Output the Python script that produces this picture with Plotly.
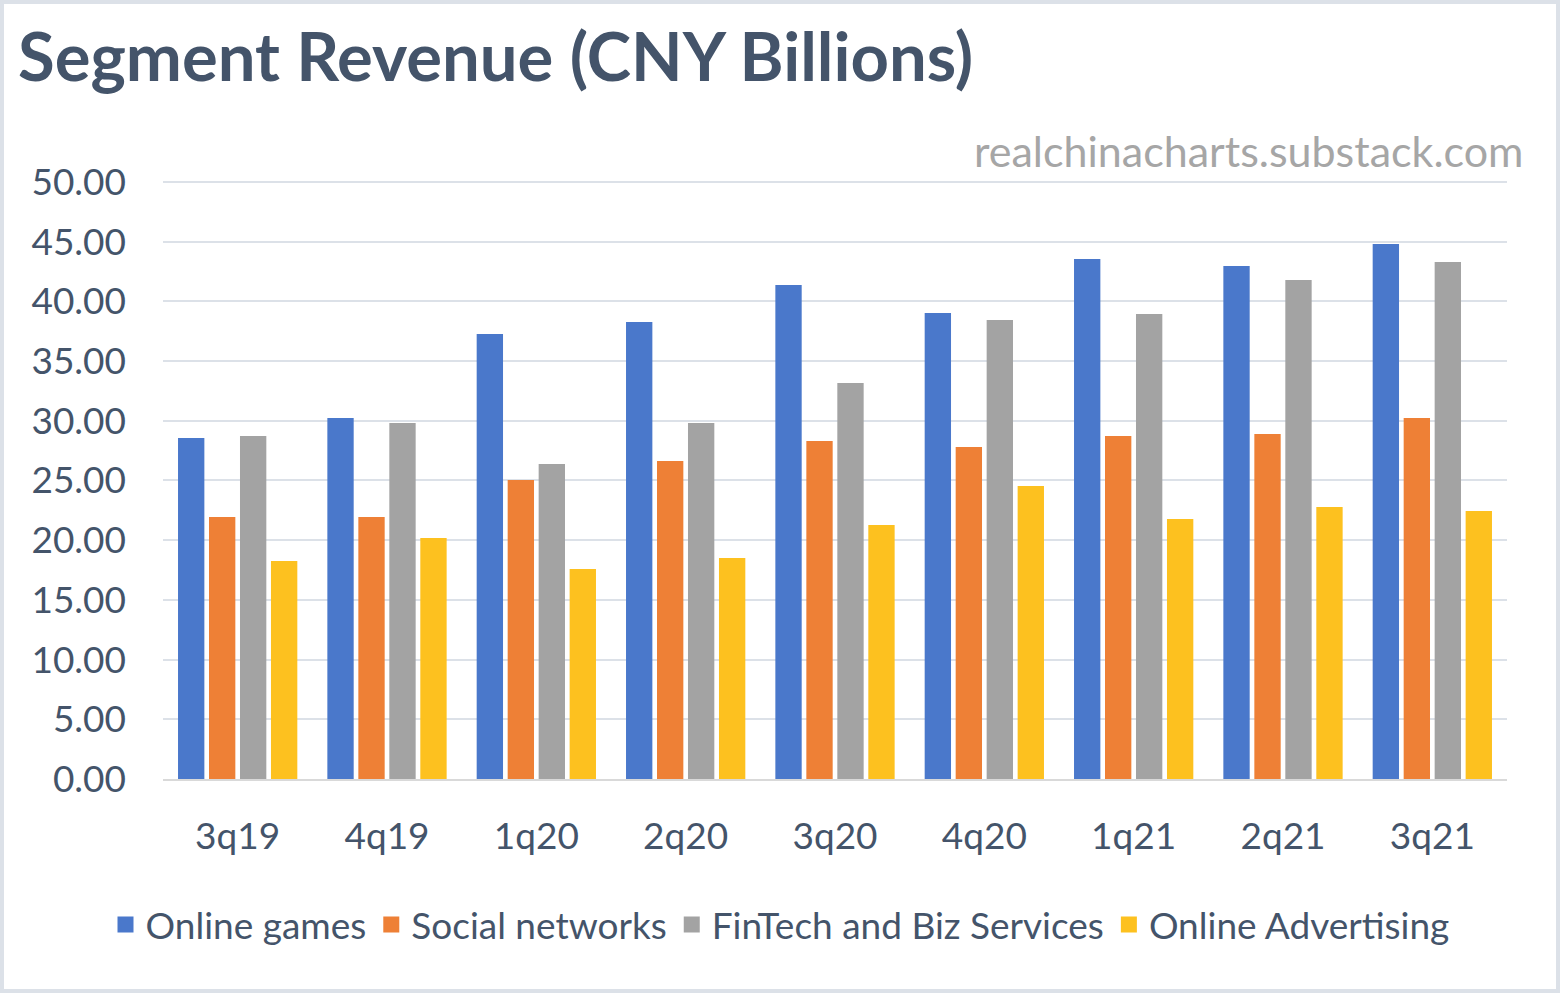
import plotly.graph_objects as go

quarters = ["3q19", "4q19", "1q20", "2q20", "3q20", "4q20", "1q21", "2q21", "3q21"]
online_games = [28.56, 30.23, 37.27, 38.27, 41.37, 39.03, 43.55, 42.96, 44.81]
social_networks = [21.94, 21.94, 25.04, 26.63, 28.31, 27.81, 28.73, 28.89, 30.23]
fintech = [28.73, 29.82, 26.38, 29.82, 33.17, 38.44, 38.94, 41.79, 43.30]
online_ads = [18.26, 20.18, 17.59, 18.51, 21.27, 24.54, 21.78, 22.78, 22.45]
y_ticks = [0, 5, 10, 15, 20, 25, 30, 35, 40, 45, 50]

series = [
    ("Online games", online_games, "#4A78CB"),
    ("Social networks", social_networks, "#EE8036"),
    ("FinTech and Biz Services", fintech, "#A3A3A3"),
    ("Online Advertising", online_ads, "#FDC11F"),
]

W, H = 1560, 993
L, R, T, B = 163, 53, 176, 214
pw, ph = W - L - R, H - T - B

def px(x):
    return (x - L) / pw

def py(y):
    return (H - B - y) / ph

FONT = "Lato"
TXT = "#44546A"

fig = go.Figure()
for name, vals, col in series:
    fig.add_trace(go.Bar(x=quarters, y=vals, name=name, marker=dict(color=col, line=dict(width=0)),
                         showlegend=False))
for name, vals, col in series:
    fig.add_trace(go.Scatter(x=[None], y=[None], mode="markers", name=name,
                             marker=dict(symbol="square", size=21, color=col)))

fig.update_layout(
    width=W, height=H,
    margin=dict(l=L, r=R, t=T, b=B),
    paper_bgcolor="white", plot_bgcolor="white",
    barmode="group", bargap=0.17, bargroupgap=0.15,
    title=dict(text="<b>Segment Revenue (CNY Billions)</b>", x=18 / W, xanchor="left",
               y=1 - 58 / H, yanchor="middle", xref="container", yref="container",
               font=dict(family=FONT, size=67, color=TXT)),
    font=dict(family=FONT, color=TXT),
    showlegend=True,
    legend=dict(orientation="h", x=0.5, xanchor="center", y=(H - 925) / H, yanchor="middle",
                xref="container", yref="container",
                font=dict(family=FONT, size=37, color=TXT), itemwidth=30,
                bgcolor="rgba(0,0,0,0)", tracegroupgap=0),
    xaxis=dict(showgrid=False, showline=True, linecolor="#D9D9D9", linewidth=2,
               tickfont=dict(family=FONT, size=37, color=TXT), ticks="",
               ticklabelstandoff=24, fixedrange=True),
    yaxis=dict(range=[0, 50.5], tickvals=y_ticks, tickformat=".2f", showgrid=True,
               gridcolor="#DCE1E8", gridwidth=2, zeroline=False, showline=False,
               tickfont=dict(family=FONT, size=37, color=TXT), ticks="",
               ticklabelstandoff=36, fixedrange=True),
    annotations=[dict(text="realchinacharts.substack.com", xref="paper", yref="paper",
                      x=px(1525), xanchor="right", y=py(150), yanchor="middle",
                      showarrow=False, font=dict(family=FONT, size=43, color="#A6A6A6"))],
    shapes=[dict(type="rect", xref="paper", yref="paper", x0=px(2), x1=px(W - 2),
                 y0=py(2), y1=py(H - 2), line=dict(color="#DCE1E8", width=4),
                 fillcolor="rgba(0,0,0,0)", layer="above")],
)

fig.write_html("out.html")
